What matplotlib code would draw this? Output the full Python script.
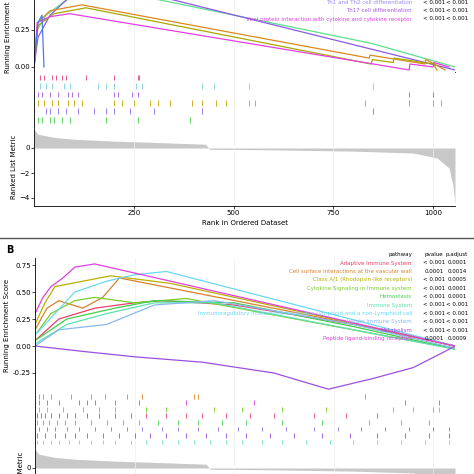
import matplotlib
matplotlib.use('Agg')
import matplotlib.pyplot as plt

# ---- panel A data (rank, running score knots) ----
a_names = ['Th1 and Th2 cell differentiation', 'Th17 cell differentiation',
           'Viral protein interaction with cytokine and cytokine receptor']
a_pval = ['< 0.001', '< 0.001', '< 0.001']
a_padj = ['< 0.001', '< 0.001', '< 0.001']
a_legend_colors = ['#9b8cf0', '#a15be0', '#e040e0']
a_colors = ['#5ee08a', '#8a5ae6', '#d98a1a', '#a8a800', '#e040e0', '#4a7cf0']
a_curves = [
  [(0, 0.0), (8, 0.25), (30, 0.35), (80, 0.45), (140, 0.55), (845, 0.16), (1055, 0.0)],
  [(0, 0.0), (10, 0.2), (40, 0.35), (100, 0.5), (160, 0.58), (1055, -0.02)],
  [(0, 0.0), (10, 0.3), (40, 0.38), (120, 0.42), (840, 0.06), (842, 0.08), (980, 0.02), (982, 0.05), (1030, -0.02)],
  [(0, 0.0), (10, 0.28), (50, 0.36), (130, 0.4), (845, 0.02), (848, 0.05), (900, 0.03), (902, 0.06), (1000, 0.02), (1010, -0.02)],
  [(0, 0.0), (8, 0.3), (40, 0.34), (90, 0.36), (940, -0.02), (942, 0.02), (1000, -0.0), (1002, 0.03), (1040, 0.0)],
  [(0, 0.0), (10, 0.3), (20, 0.35), (25, 0.0)],
]
a_hits = [
  [15, 25, 45, 55, 70, 80, 130, 200, 260, 262],
  [15, 30, 45, 75, 90, 160, 180, 200, 255, 270, 420, 450, 540, 850],
  [10, 20, 40, 60, 85, 95, 110, 200, 210, 245, 260, 940, 1000],
  [10, 25, 45, 60, 85, 100, 120, 200, 220, 250, 290, 310, 340, 395, 420, 455, 480, 540, 555, 830, 940, 1000, 1020],
  [30, 40, 60, 80, 110, 150, 180, 200, 240, 300, 420, 850],
  [10, 20, 40, 50, 70, 90, 180, 260, 390],
]
a_rug_colors = ['#e0407a', '#7ad0e0', '#a15be0', '#c8a000', '#8a6ae6', '#4ad04a']

# ---- panel B data ----
b_names = ['Adaptive Immune System', 'Cell surface interactions at the vascular wall',
           'Class A/1 (Rhodopsin-like receptors)', 'Cytokine Signaling in Immune system',
           'Hemostasis', 'Immune System',
           'Immunoregulatory interactions between a Lymphoid and a non-Lymphoid cell',
           'Innate Immune System', 'Metabolism', 'Peptide ligand-binding receptors']
b_pval = ['< 0.001', '0.0001', '< 0.001', '< 0.001', '< 0.001', '< 0.001', '< 0.001', '< 0.001', '< 0.001', '0.0001']
b_padj = ['0.0001', '0.0014', '0.0005', '0.0001', '0.0001', '< 0.001', '< 0.001', '< 0.001', '< 0.001', '0.0009']
b_colors = ['#e8406a', '#d9822b', '#b8b000', '#7ccd2a', '#3ed04a', '#5ee0b0',
            '#6ad8f0', '#8ab8f0', '#9a50e0', '#e040e0']
b_curves = [
  [(0, 0.05), (60, 0.25), (150, 0.35), (250, 0.4), (320, 0.42), (500, 0.38), (800, 0.2), (1055, 0.0)],
  [(0, 0.15), (30, 0.35), (60, 0.42), (120, 0.35), (170, 0.45), (212, 0.63), (820, 0.19), (1055, 0.0)],
  [(0, 0.2), (25, 0.4), (50, 0.55), (120, 0.6), (190, 0.65), (340, 0.58), (1000, 0.05), (1055, 0.0)],
  [(0, 0.1), (40, 0.3), (100, 0.42), (150, 0.45), (250, 0.4), (380, 0.44), (900, 0.08), (1055, -0.02)],
  [(0, 0.05), (80, 0.25), (200, 0.35), (300, 0.42), (500, 0.4), (800, 0.18), (1055, -0.03)],
  [(0, 0.02), (80, 0.2), (180, 0.3), (300, 0.4), (450, 0.4), (800, 0.15), (1055, -0.03)],
  [(0, 0.1), (50, 0.3), (100, 0.5), (180, 0.6), (250, 0.66), (330, 0.69), (1055, 0.0)],
  [(0, 0.0), (60, 0.15), (180, 0.2), (300, 0.38), (450, 0.42), (800, 0.2), (1055, -0.02)],
  [(0, 0.0), (120, -0.05), (250, -0.1), (420, -0.15), (600, -0.25), (737, -0.4), (850, -0.3), (950, -0.2), (1030, -0.05), (1055, 0.0)],
  [(0, 0.3), (20, 0.45), (40, 0.55), (70, 0.63), (100, 0.73), (150, 0.76), (1055, 0.0)],
]
b_hit_rows = [
  ([10, 20, 40, 90, 140, 175, 230, 270, 400, 410, 830], '#d9822b'),
  ([10, 30, 60, 110, 130, 150, 200, 260, 380, 550, 930, 1015], '#e040e0'),
  ([10, 30, 70, 120, 160, 200, 280, 330, 450, 520, 620, 730, 900, 950, 1000, 1015], '#7ccd2a'),
  ([5, 15, 25, 40, 60, 80, 100, 130, 160, 200, 240, 280, 330, 380, 420, 480, 540, 600, 700, 780, 860], '#e8406a'),
  ([5, 20, 35, 55, 75, 100, 140, 180, 220, 260, 310, 360, 410, 470, 530, 620, 720, 840, 920, 990], '#3ed04a'),
  ([10, 30, 50, 80, 110, 150, 190, 230, 270, 320, 360, 410, 460, 510, 570, 630, 700, 760, 820, 880, 940, 1000, 1040], '#8a6ae6'),
  ([5, 25, 50, 75, 100, 130, 170, 210, 250, 290, 330, 380, 430, 480, 530, 590, 650, 720, 790, 860, 930, 990, 1040], '#9a50e0'),
  ([5, 20, 40, 60, 85, 110, 140, 170, 200, 240, 280, 320, 360, 400, 440, 480, 520, 570, 620, 680, 740, 800, 860, 920, 980, 1040], '#5ee0b0'),
]

# ranked list metric (shared shape)
metric_rank = [0, 10, 50, 100, 200, 300, 430, 440, 600, 800, 950, 1010, 1040, 1050, 1055]
metric_val = [1.5, 1.1, 0.85, 0.7, 0.55, 0.45, 0.3, -0.1, -0.15, -0.25, -0.4, -0.8, -1.6, -3.0, -4.5]

XMAX = 1055
W = 474

def px(l, t, r, b):
  return [l / W, 1 - b / W, (r - l) / W, (b - t) / W]

def style(ax, xt=False):
  for s in ['top', 'right']:
    ax.spines[s].set_visible(False)
  ax.set_xlim(0, XMAX)
  ax.set_xticks([250, 500, 750, 1000])
  ax.grid(True, axis='x', color='#eeeeee', lw=0.5)
  ax.tick_params(labelsize=5, length=2, width=0.5, pad=1)
  if not xt:
    ax.set_xticklabels([])
    ax.tick_params(axis='x', length=0)
  for s in ['left', 'bottom']:
    ax.spines[s].set_linewidth(0.6)

def draw_curves(ax, curves, colors):
  for c, col in zip(curves, colors):
    ax.plot([p[0] for p in c], [p[1] for p in c], color=col, lw=0.9)

def draw_rug(ax, rows):
  for i, (hits, col) in enumerate(rows):
    ax.vlines(hits, i, i + 0.7, color=col, lw=0.6)
  ax.set_ylim(len(rows) + 0.3, -0.3)
  ax.set_yticks([])
  ax.spines['bottom'].set_visible(False)

def draw_metric(ax, ylim):
  ax.fill_between(metric_rank, 0, metric_val, color='#c8c8c8', lw=0)
  ax.set_ylim(*ylim)

def draw_table(fig, top, names, pv, pa, colors, step, header=False):
  fs = 4
  if header:
    y = 1 - (top - step) / W
    fig.text(412 / W, y, 'pathway', fontsize=fs, ha='right', va='center')
    fig.text(434 / W, y, 'pvalue', fontsize=fs, ha='center', va='center')
    fig.text(457 / W, y, 'p.adjust', fontsize=fs, ha='center', va='center')
  for i in range(len(names)):
    y = 1 - (top + i * step) / W
    fig.text(412 / W, y, names[i], fontsize=fs, ha='right', va='center', color=colors[i])
    fig.text(434 / W, y, pv[i], fontsize=fs, ha='center', va='center')
    fig.text(457 / W, y, pa[i], fontsize=fs, ha='center', va='center')

fig = plt.figure(figsize=(4.74, 4.74), dpi=100)

# panel A
ax1 = fig.add_axes(px(34, -20, 455, 72))
draw_curves(ax1, a_curves, a_colors)
ax1.set_ylim(-0.034, 0.588)
ax1.set_yticks([0.0, 0.25])
ax1.set_yticklabels(['0.00', '0.25'])
ax1.set_ylabel('Running Enrichment Score', fontsize=5, labelpad=2)
style(ax1)
draw_table(fig, 3, a_names, a_pval, a_padj, a_legend_colors, 8)

ax2 = fig.add_axes(px(34, 72, 455, 128))
draw_rug(ax2, list(zip(a_hits, a_rug_colors)))
style(ax2)
ax2.set_yticks([])

ax3 = fig.add_axes(px(34, 128, 455, 206))
draw_metric(ax3, (-4.64, 1.6))
ax3.set_yticks([0, -2, -4])
ax3.set_ylabel('Ranked List Metric', fontsize=5, labelpad=2)
ax3.set_xlabel('Rank in Ordered Dataset', fontsize=5, labelpad=3)
style(ax3, xt=True)

fig.add_artist(plt.Line2D([0, 1], [1 - 238 / W, 1 - 238 / W], color='#555555', lw=1))
fig.text(6 / W, 1 - 250 / W, 'B', fontsize=7, fontweight='bold', va='center')

# panel B
bx1 = fig.add_axes(px(35, 258, 455, 392))
draw_curves(bx1, b_curves, b_colors)
bx1.set_ylim(-0.426, 0.815)
bx1.set_yticks([-0.25, 0.0, 0.25, 0.5, 0.75])
bx1.set_yticklabels(['-0.25', '0.00', '0.25', '0.50', '0.75'])
bx1.set_ylabel('Running Enrichment Score', fontsize=5, labelpad=2)
style(bx1)
bx1.spines['bottom'].set_visible(False)
draw_table(fig, 263, b_names, b_pval, b_padj, b_colors, 8.4, header=True)

bx2 = fig.add_axes(px(35, 392, 455, 448))
draw_rug(bx2, b_hit_rows)
style(bx2)
bx2.set_yticks([])

bx3 = fig.add_axes(px(35, 448, 455, 520))
draw_metric(bx3, (-4.16, 1.6))
bx3.set_yticks([0])
bx3.set_ylabel('Ranked List Metric', fontsize=5, labelpad=2)
style(bx3)

fig.savefig('out.png', dpi=100)
